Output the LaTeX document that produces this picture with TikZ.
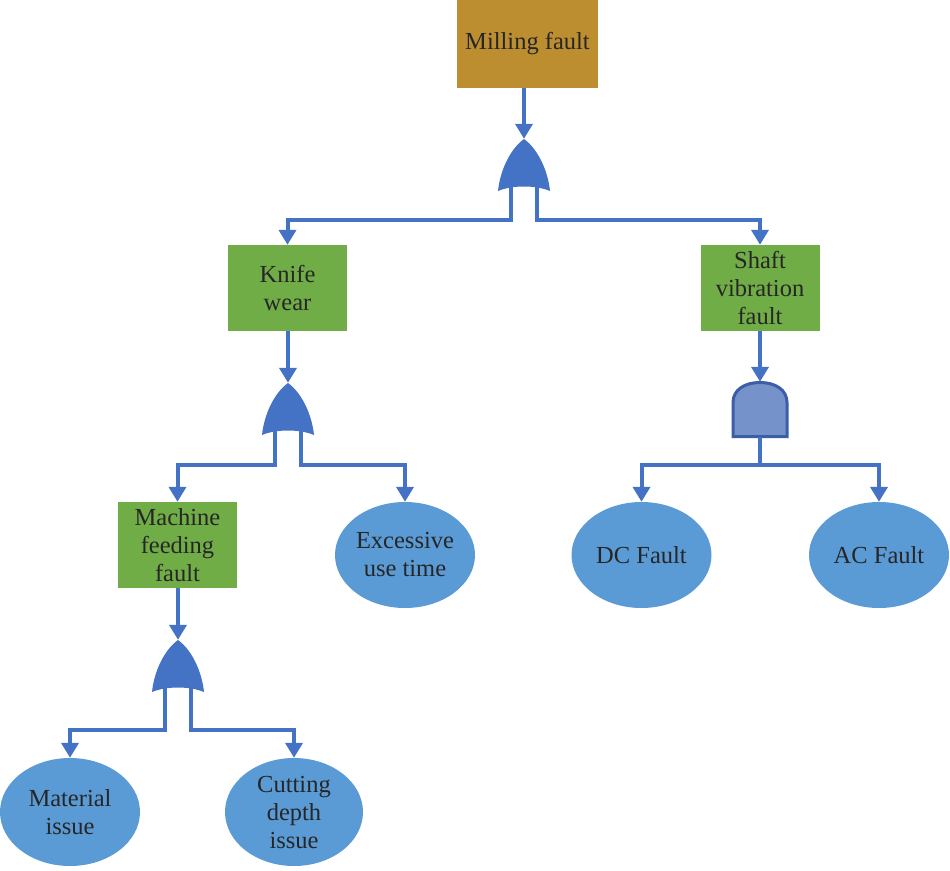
\documentclass[tikz,border=0pt]{standalone}
\usepackage{fontspec}
\setmainfont{Liberation Serif}
\newfontfamily\tnr{Liberation Serif}
\usetikzlibrary{arrows.meta,shapes.geometric,calc}
\definecolor{gold}{HTML}{BD8E2F}
\definecolor{grn}{HTML}{70AD47}
\definecolor{ell}{HTML}{5B9BD5}
\definecolor{ln}{HTML}{4472C4}
\definecolor{andfill}{HTML}{7592CB}
\definecolor{andline}{HTML}{3B5EA7}
\definecolor{txt}{HTML}{262626}
\begin{document}
\begin{tikzpicture}[x=1pt,y=-1pt,
  every node/.style={font=\tnr\fontsize{24.5}{28}\selectfont, text=txt, align=center, inner sep=0pt},
  box/.style={rectangle, fill=grn, minimum width=119pt, minimum height=86pt},
  ev/.style={ellipse, fill=ell, minimum width=140pt, minimum height=106pt},
  gatebox/.style={rectangle, minimum width=52pt, minimum height=52pt},
  conn/.style={draw=ln, line width=4pt},
  arr/.style={conn, -{Triangle[width=17pt,length=15pt]}},
  orgate/.pic={\fill[ln] (0,-26) .. controls (-14,-16) and (-24,6) .. (-26,26) .. controls (-12,20) and (12,20) .. (26,26) .. controls (24,6) and (14,-16) .. (0,-26);},
  andgate/.pic={\filldraw[fill=andfill, draw=andline, line width=3pt] (-27,27) -- (-27,-7) .. controls (-27,-20) and (-15,-27) .. (0,-27) .. controls (15,-27) and (27,-20) .. (27,-7) -- (27,27) -- cycle;}
]
\useasboundingbox (0,0) rectangle (950,870);

\node[rectangle, fill=gold, minimum width=141pt, minimum height=88pt] (mf) at (527.5,44) {Milling fault};
\node[gatebox] (g1) at (524,165) {}; \pic at (g1) {orgate};
\node[box] (kw) at (287.5,288) {Knife\\wear};
\node[box] (sv) at (760,288) {Shaft\\vibration\\fault};
\node[gatebox] (g2) at (288,409) {}; \pic at (g2) {orgate};
\node[gatebox, minimum width=54pt, minimum height=55pt] (ag) at (760,409.5) {}; \pic at (ag) {andgate};
\node[box] (mff) at (177.5,545) {Machine\\feeding\\fault};
\node[ev] (ex) at (405,555) {Excessive\\use time};
\node[ev] (dc) at (641.5,555) {DC Fault};
\node[ev] (ac) at (879,555) {AC Fault};
\node[gatebox] (g3) at (178,666) {}; \pic at (g3) {orgate};
\node[ev, minimum height=108pt] (mi) at (70,812) {Material\\issue};
\node[ev, minimum width=138pt, minimum height=108pt] (cd) at (294,812) {Cutting\\depth\\issue};

\draw[arr] (mf.south -| g1.north) -- (g1.north);
\draw[arr] ($(g1.south)+(-13,-6)$) -- ++(0,35) -| (kw.north);
\draw[arr] ($(g1.south)+(13,-6)$) -- ++(0,35) -| (sv.north);

\draw[arr] (kw.south -| g2.north) -- (g2.north);
\draw[arr] ($(g2.south)+(-13,-6)$) -- ++(0,36) -| (mff.north);
\draw[arr] ($(g2.south)+(13,-6)$) -- ++(0,36) -| (ex.north);

\draw[arr] (sv.south) -- (ag.north);
\draw[conn] (ag.south) -- ++(0,28) coordinate (aj);
\draw[arr] (aj) -| (dc.north);
\draw[arr] (aj) -| (ac.north);

\draw[arr] (mff.south -| g3.north) -- (g3.north);
\draw[arr] ($(g3.south)+(-13,-6)$) -- ++(0,44) -| (mi.north);
\draw[arr] ($(g3.south)+(13,-6)$) -- ++(0,44) -| (cd.north);
\end{tikzpicture}
\end{document}
